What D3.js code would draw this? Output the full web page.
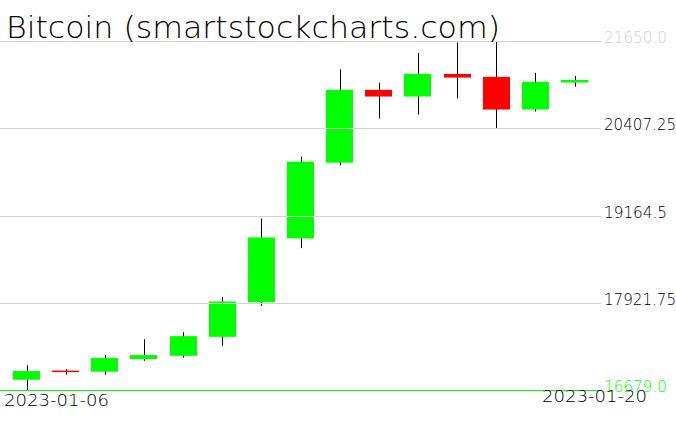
<!DOCTYPE html>
<html>
<head>
<meta charset="UTF-8">
<title>Bitcoin</title>
<script src="https://d3js.org/d3.v7.min.js"></script>
<style type="text/css">
    body { margin: 0; background: #fff; }
    svg { display: block; }
    .title { font-family: "DejaVu Sans", sans-serif; font-weight: 200; font-size: 30px; }
    .lbl { font-family: "DejaVu Sans", sans-serif; font-weight: 200; font-size: 15px; }
</style>
</head>
<body>
<script type="text/javascript">
// daily candles, 2023-01-06 .. 2023-01-20
const dates  = ['2023-01-06','2023-01-07','2023-01-08','2023-01-09','2023-01-10','2023-01-11','2023-01-12','2023-01-13',
                '2023-01-14','2023-01-15','2023-01-16','2023-01-17','2023-01-18','2023-01-19','2023-01-20'];
const opens  = [16825, 16955, 16939, 17119, 17166, 17436, 17929, 18838, 19917, 20954, 20859, 21181, 21139, 20674, 21058];
const highs  = [17030, 16977, 17176, 17403, 17503, 18000, 19122, 20003, 21248, 21054, 21480, 21630, 21650, 21196, 21153];
const lows   = [16679, 16896, 16896, 17095, 17138, 17308, 17876, 18700, 19879, 20546, 20603, 20830, 20409, 20646, 21001];
const closes = [16949, 16945, 17134, 17176, 17446, 17939, 18852, 19931, 20954, 20859, 21181, 21129, 20674, 21068, 21096];

// axis ticks
const yTicks = [16679.0, 17921.75, 19164.5, 20407.25, 21650.0];
const yTickLabels = ['16679.0', '17921.75', '19164.5', '20407.25', '21650.0'];
const xTickLabels = ['2023-01-06', '2023-01-20'];

const W = 676, H = 431;
const svg = d3.select('body').append('svg').attr('width', W).attr('height', H);
svg.append('rect').attr('width', W).attr('height', H).attr('fill', '#fff');

const x = d3.scalePoint().domain(dates).range([26.5, 574.5]);
const y = d3.scaleLinear().domain([yTicks[0], yTicks[yTicks.length - 1]]).range([390, 41]);
const bodyW = x.step() * 0.69;

const candles = dates.map((d, i) => ({ d: d, o: opens[i], h: highs[i], l: lows[i], c: closes[i] }));

// wicks
svg.append('g').selectAll('line').data(candles).join('line')
    .attr('x1', d => Math.round(x(d.d)) + 0.5)
    .attr('x2', d => Math.round(x(d.d)) + 0.5)
    .attr('y1', d => y(d.h))
    .attr('y2', d => y(d.l))
    .attr('stroke', '#000')
    .attr('stroke-width', 1);

// bodies
svg.append('g').selectAll('rect').data(candles).join('rect')
    .attr('x', d => Math.round(x(d.d) - bodyW / 2))
    .attr('width', Math.round(bodyW))
    .attr('y', d => y(Math.max(d.o, d.c)))
    .attr('height', d => Math.max(1.5, Math.abs(y(d.o) - y(d.c))))
    .attr('fill', d => d.c >= d.o ? '#00ff00' : '#ff0000');

// grid lines + right labels
const grid = svg.append('g');
grid.selectAll('line').data(yTicks).join('line')
    .attr('x1', 0)
    .attr('x2', 601)
    .attr('y1', d => Math.round(y(d)) + 0.5)
    .attr('y2', d => Math.round(y(d)) + 0.5)
    .attr('stroke', (d, i) => i === 0 ? '#00ff00' : '#d3d3d3')
    .attr('stroke-width', 1);

grid.selectAll('text').data(yTicks).join('text')
    .attr('class', 'lbl')
    .attr('x', 604)
    .attr('y', d => Math.round(y(d)) + 1.5)
    .attr('fill', (d, i) => i === 0 ? '#00ff00' : (i === yTicks.length - 1 ? '#cfcfcf' : '#000'))
    .attr('textLength', (d, i) => yTickLabels[i].length * 9)
    .attr('lengthAdjust', 'spacingAndGlyphs')
    .text((d, i) => yTickLabels[i]);

// date labels
svg.append('text').attr('class', 'lbl')
    .attr('x', 4).attr('y', 406)
    .attr('textLength', 105).attr('lengthAdjust', 'spacingAndGlyphs')
    .text(xTickLabels[0]);
svg.append('text').attr('class', 'lbl')
    .attr('x', 542).attr('y', 402)
    .attr('textLength', 105).attr('lengthAdjust', 'spacingAndGlyphs')
    .text(xTickLabels[1]);

// title
svg.append('text').attr('class', 'title')
    .attr('x', 6).attr('y', 38)
    .attr('textLength', 494).attr('lengthAdjust', 'spacingAndGlyphs')
    .text('Bitcoin (smartstockcharts.com)');
</script>
</body>
</html>
